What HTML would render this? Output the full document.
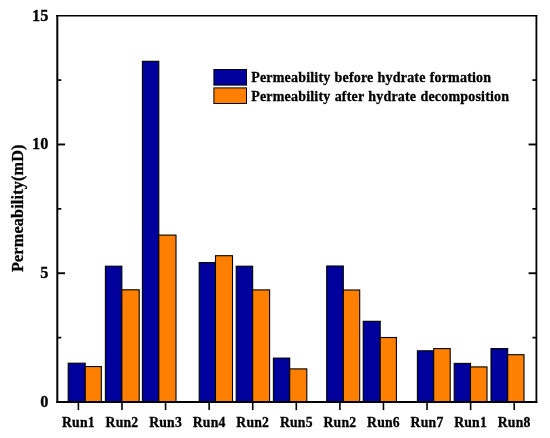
<!DOCTYPE html>
<html><head><meta charset="utf-8"><title>Permeability chart</title>
<style>
html,body{margin:0;padding:0;background:#fff;}
body{width:550px;height:438px;overflow:hidden;}
svg{display:block;}
text{font-family:"Liberation Serif","Times New Roman",serif;font-weight:bold;fill:#000;stroke:#000;stroke-width:0.3px;}
</style></head><body>
<svg width="550" height="438" viewBox="0 0 550 438">
<rect x="0" y="0" width="550" height="438" fill="#ffffff"/>

<g stroke="#000" stroke-width="1.1">
<rect x="68.20" y="363.20" width="17.00" height="38.80" fill="#00009c"/>
<rect x="85.20" y="366.55" width="16.10" height="35.45" fill="#ff8000"/>
<rect x="105.40" y="266.20" width="16.45" height="135.80" fill="#00009c"/>
<rect x="121.85" y="289.80" width="17.35" height="112.20" fill="#ff8000"/>
<rect x="142.40" y="61.30" width="16.40" height="340.70" fill="#00009c"/>
<rect x="158.80" y="235.10" width="17.20" height="166.90" fill="#ff8000"/>
<rect x="199.20" y="262.60" width="16.30" height="139.40" fill="#00009c"/>
<rect x="215.50" y="255.70" width="17.00" height="146.30" fill="#ff8000"/>
<rect x="236.20" y="266.20" width="16.45" height="135.80" fill="#00009c"/>
<rect x="252.65" y="289.90" width="16.95" height="112.10" fill="#ff8000"/>
<rect x="273.40" y="358.10" width="16.30" height="43.90" fill="#00009c"/>
<rect x="289.70" y="368.90" width="17.10" height="33.10" fill="#ff8000"/>
<rect x="326.70" y="266.00" width="16.60" height="136.00" fill="#00009c"/>
<rect x="343.30" y="290.00" width="16.40" height="112.00" fill="#ff8000"/>
<rect x="363.20" y="321.30" width="17.00" height="80.70" fill="#00009c"/>
<rect x="380.20" y="337.50" width="16.20" height="64.50" fill="#ff8000"/>
<rect x="417.40" y="350.80" width="16.30" height="51.20" fill="#00009c"/>
<rect x="433.70" y="348.60" width="16.50" height="53.40" fill="#ff8000"/>
<rect x="454.20" y="363.40" width="16.30" height="38.60" fill="#00009c"/>
<rect x="470.50" y="366.90" width="16.50" height="35.10" fill="#ff8000"/>
<rect x="491.00" y="348.60" width="16.70" height="53.40" fill="#00009c"/>
<rect x="507.70" y="354.70" width="16.30" height="47.30" fill="#ff8000"/>
</g>
<g stroke="#000" fill="none" stroke-linecap="butt">
<line x1="57.3" y1="15.0" x2="57.3" y2="402.9" stroke-width="2"/>
<line x1="536.4" y1="15.0" x2="536.4" y2="402.9" stroke-width="1.8"/>
<line x1="56.3" y1="15.7" x2="537.3" y2="15.7" stroke-width="1.4"/>
<line x1="56.3" y1="402.0" x2="537.3" y2="402.0" stroke-width="1.8"/>
<line x1="57.3" y1="273.23" x2="65.0" y2="273.23" stroke-width="1.9"/>
<line x1="536.4" y1="273.23" x2="528.6" y2="273.23" stroke-width="1.9"/>
<line x1="57.3" y1="144.47" x2="65.0" y2="144.47" stroke-width="1.9"/>
<line x1="536.4" y1="144.47" x2="528.6" y2="144.47" stroke-width="1.9"/>
<line x1="57.3" y1="337.62" x2="61.3" y2="337.62" stroke-width="1.7"/>
<line x1="536.4" y1="337.62" x2="532.4" y2="337.62" stroke-width="1.7"/>
<line x1="57.3" y1="208.85" x2="61.3" y2="208.85" stroke-width="1.7"/>
<line x1="536.4" y1="208.85" x2="532.4" y2="208.85" stroke-width="1.7"/>
<line x1="57.3" y1="80.08" x2="61.3" y2="80.08" stroke-width="1.7"/>
<line x1="536.4" y1="80.08" x2="532.4" y2="80.08" stroke-width="1.7"/>
<line x1="78.40" y1="402.0" x2="78.40" y2="410.1" stroke-width="1.6"/>
<line x1="121.98" y1="402.0" x2="121.98" y2="410.1" stroke-width="1.6"/>
<line x1="165.56" y1="402.0" x2="165.56" y2="410.1" stroke-width="1.6"/>
<line x1="209.14" y1="402.0" x2="209.14" y2="410.1" stroke-width="1.6"/>
<line x1="252.72" y1="402.0" x2="252.72" y2="410.1" stroke-width="1.6"/>
<line x1="296.30" y1="402.0" x2="296.30" y2="410.1" stroke-width="1.6"/>
<line x1="339.88" y1="402.0" x2="339.88" y2="410.1" stroke-width="1.6"/>
<line x1="383.46" y1="402.0" x2="383.46" y2="410.1" stroke-width="1.6"/>
<line x1="427.04" y1="402.0" x2="427.04" y2="410.1" stroke-width="1.6"/>
<line x1="470.62" y1="402.0" x2="470.62" y2="410.1" stroke-width="1.6"/>
<line x1="514.20" y1="402.0" x2="514.20" y2="410.1" stroke-width="1.6"/>
</g>
<text x="48.3" y="406.90" font-size="16.3" text-anchor="end">0</text>
<text x="48.3" y="278.13" font-size="16.3" text-anchor="end">5</text>
<text x="48.3" y="149.37" font-size="16.3" text-anchor="end">10</text>
<text x="48.3" y="20.60" font-size="16.3" text-anchor="end">15</text>
<text x="78.40" y="426.6" font-size="13.7" letter-spacing="0.22" text-anchor="middle">Run1</text>
<text x="121.98" y="426.6" font-size="13.7" letter-spacing="0.22" text-anchor="middle">Run2</text>
<text x="165.56" y="426.6" font-size="13.7" letter-spacing="0.22" text-anchor="middle">Run3</text>
<text x="209.14" y="426.6" font-size="13.7" letter-spacing="0.22" text-anchor="middle">Run4</text>
<text x="252.72" y="426.6" font-size="13.7" letter-spacing="0.22" text-anchor="middle">Run2</text>
<text x="296.30" y="426.6" font-size="13.7" letter-spacing="0.22" text-anchor="middle">Run5</text>
<text x="339.88" y="426.6" font-size="13.7" letter-spacing="0.22" text-anchor="middle">Run2</text>
<text x="383.46" y="426.6" font-size="13.7" letter-spacing="0.22" text-anchor="middle">Run6</text>
<text x="427.04" y="426.6" font-size="13.7" letter-spacing="0.22" text-anchor="middle">Run7</text>
<text x="470.62" y="426.6" font-size="13.7" letter-spacing="0.22" text-anchor="middle">Run1</text>
<text x="514.20" y="426.6" font-size="13.7" letter-spacing="0.22" text-anchor="middle">Run8</text>
<text transform="translate(23.4,208.2) rotate(-90)" font-size="16.2" letter-spacing="0.17" text-anchor="middle">Permeability(mD)</text>
<rect x="213.9" y="69.5" width="32.6" height="15.6" fill="#00009c" stroke="#000" stroke-width="1"/>
<rect x="213.9" y="87.9" width="32.6" height="15.6" fill="#ff8000" stroke="#000" stroke-width="1"/>
<text x="251.2" y="82.2" font-size="14" letter-spacing="0.19" word-spacing="0.4">Permeability before hydrate formation</text>
<text x="251.2" y="100.5" font-size="14" letter-spacing="0.19" word-spacing="0.5">Permeability after hydrate decomposition</text>
</svg></body></html>
